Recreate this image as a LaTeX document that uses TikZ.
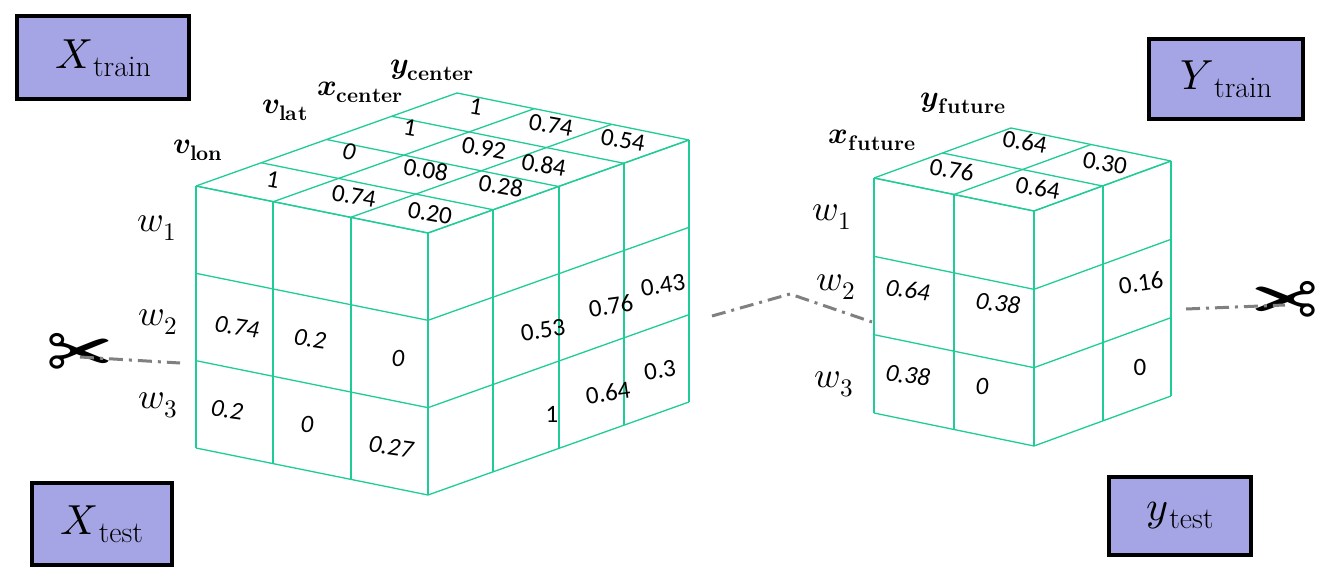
\documentclass[tikz,border=0pt]{standalone}
\usepackage{amsmath}
\usepackage{fontspec}
\usepackage{unicode-math}
\setmathfont{Latin Modern Math}
\newfontfamily\numfont{Carlito}
\newfontfamily\symfont{DejaVu Sans}
\definecolor{gridgreen}{HTML}{1FCC96}
\definecolor{boxfill}{HTML}{A5A5E6}
\newcommand{\boxlab}[2]{$#1$\hspace{1pt}\raisebox{-8pt}{\fontsize{30}{32}\selectfont #2}}
\tikzset{
  vline/.style={draw=gridgreen, line width=2pt},
  sline/.style={draw=gridgreen, line width=1.3pt},
  lab/.style={draw=black, line width=4pt, fill=boxfill, inner sep=0pt, font=\fontsize{42}{46}\selectfont},
  num/.style={font=\numfont\fontsize{25}{27}\selectfont, inner sep=0pt},
  inum/.style={num, font=\numfont\itshape\fontsize{25}{27}\selectfont},
  axl/.style={font=\fontsize{30}{34}\selectfont, inner sep=0pt},
  wl/.style={font=\fontsize{36}{40}\selectfont, inner sep=0pt},
  cut/.style={draw=gray, line width=3pt, dash pattern=on 14pt off 6pt on 3pt off 6pt},
  sci/.style={font=\symfont\fontsize{80}{80}\selectfont, inner sep=0pt}
}
\begin{document}
\begin{tikzpicture}[x=1pt,y=-1pt]
\useasboundingbox (0,0) rectangle (1332,580);
% ---------- left cube ----------
\foreach \i in {0,1,2,3}{
  \draw[sline] (196,186+\i*262/3) -- ++(232,47);
  \draw[sline] (196+\i*232/3,186+\i*47/3) -- ++(261,-93);
  \draw[sline] (428,233+\i*262/3) -- ++(261,-93);
}
\foreach \k in {0,1,2,3,4}{
  \draw[sline] (196+\k*261/4,186-\k*93/4) -- ++(232,47);
}
\foreach \i in {0,1,2,3}{
  \draw[vline] (196+\i*232/3,186+\i*47/3) -- ++(0,262);
}
\foreach \k in {0,1,2,3,4}{
  \draw[vline] (428+\k*261/4,233-\k*93/4) -- ++(0,262);
}
% top numbers
\node[num,rotate=-10] (t11) at (476,107) {1};
\node[num,rotate=-10] (t12) at (551,125) {0.74};
\node[num,rotate=-10] (t13) at (623,140) {0.54};
\node[num,rotate=-10] (t21) at (410,128) {1};
\node[num,rotate=-10] (t22) at (484,148) {0.92};
\node[num,rotate=-10] (t23) at (544,165) {0.84};
\node[inum,rotate=-10] (t31) at (349,152) {0};
\node[num,rotate=-10] (t32) at (426,170) {0.08};
\node[num,rotate=-10] (t33) at (501,186) {0.28};
\node[num,rotate=-10] (t41) at (273,180) {1};
\node[num,rotate=-10] (t42) at (354,196) {0.74};
\node[num,rotate=-10] (t43) at (430,213) {0.20};
% front numbers
\node[inum,rotate=-8] (f21) at (237,327) {0.74};
\node[inum,rotate=-8] (f22) at (310,339) {0.2};
\node[inum] (f23) at (398,358) {0};
\node[inum,rotate=-8] (f31) at (227,410) {0.2};
\node[inum] (f32) at (307,424) {0};
\node[inum,rotate=-8] (f33) at (391,447) {0.27};
% right face numbers
\node[num,rotate=8] (r21) at (543,330) {0.53};
\node[num,rotate=8] (r22) at (611,306) {0.76};
\node[num,rotate=8] (r23) at (663,285) {0.43};
\node[num] (r31) at (552,414) {1};
\node[num,rotate=8] (r32) at (608,393) {0.64};
\node[num,rotate=8] (r33) at (660,370) {0.3};
% axis labels
\node[axl] (vlon) at (198,150) {$\symbfit{v}_{\symbf{lon}}$};
\node[axl] (vlat) at (285,110) {$\symbfit{v}_{\symbf{lat}}$};
\node[axl] (xc) at (360,92) {$\symbfit{x}_{\symbf{center}}$};
\node[axl] (yc) at (432,70) {$\symbfit{y}_{\symbf{center}}$};
\node[wl] (lw1) at (157,228) {$w_1$};
\node[wl] (lw2) at (158,322) {$w_2$};
\node[wl] (lw3) at (158,405) {$w_3$};
% ---------- right cube ----------
\foreach \i in {0,1,2}{
  \draw[sline] (874+\i*80,178+\i*16.5) -- ++(137,-50);
  \draw[sline] (874+\i*68.5,178-\i*25) -- ++(160,33);
}
\foreach \j in {0,1,2,3}{
  \draw[sline] (874,178+\j*235/3) -- ++(160,33);
  \draw[sline] (1034,211+\j*235/3) -- ++(137,-50);
}
\foreach \i in {0,1,2}{
  \draw[vline] (874+\i*80,178+\i*16.5) -- ++(0,235);
  \draw[vline] (1034+\i*68.5,211-\i*25) -- ++(0,235);
}
\node[num,rotate=-10] (u11) at (1025,142) {0.64};
\node[num,rotate=-10] (u12) at (1105,163) {0.30};
\node[num,rotate=-10] (u21) at (952,170) {0.76};
\node[num,rotate=-10] (u22) at (1038,188) {0.64};
\node[inum,rotate=-8] (g21) at (908,290) {0.64};
\node[inum,rotate=-8] (g22) at (998,303) {0.38};
\node[inum,rotate=-8] (g31) at (908,375) {0.38};
\node[inum] (g32) at (982,386) {0};
\node[num,rotate=8] (s2) at (1141,283) {0.16};
\node[num] (s3) at (1140,367) {0};
\node[axl] (xf) at (872,140) {$\symbfit{x}_{\symbf{future}}$};
\node[axl] (yf) at (963,103) {$\symbfit{y}_{\symbf{future}}$};
\node[wl] (rw1) at (832,217) {$w_1$};
\node[wl] (rw2) at (836,287) {$w_2$};
\node[wl] (rw3) at (834,384) {$w_3$};
% ---------- boxes ----------
\node[lab, minimum width=172pt, minimum height=83pt] (xtrain) at (103,58) {\boxlab{X}{train}};
\node[lab, minimum width=140pt, minimum height=82pt] (xtest) at (102,524) {\boxlab{X}{test}};
\node[lab, minimum width=154pt, minimum height=80pt] (ytrain) at (1226,79) {\boxlab{Y}{train}};
\node[lab, minimum width=142pt, minimum height=78pt] (ytest) at (1180,516) {\boxlab{y}{test}};
% ---------- cuts ----------
\node[sci] (sc1) at (80,357) {✂};
\node[sci, xscale=-1] (sc2) at (1285,305) {✂};
\coordinate (c1) at (180,363);
\coordinate (m1) at (712,316);
\coordinate (m2) at (790,294);
\coordinate (m3) at (872,322);
\coordinate (c2) at (1186,309);
\draw[cut] (sc1.center) -- (c1);
\draw[cut] (m1) -- (m2) -- (m3);
\draw[cut] (c2) -- (sc2.center);
\end{tikzpicture}
\end{document}
